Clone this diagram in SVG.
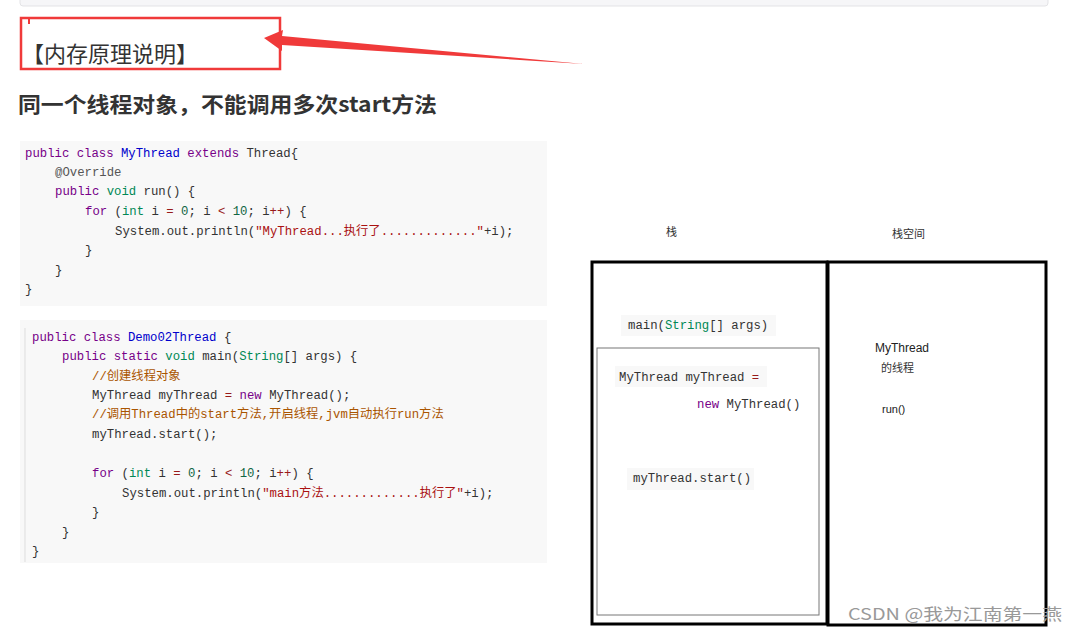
<svg xmlns="http://www.w3.org/2000/svg" width="1076" height="634" viewBox="0 0 1076 634">
<style>
.c{font-family:"Liberation Mono","Noto Sans CJK SC",monospace;font-size:12.3px;fill:#333;white-space:pre}
.k{fill:#770088}.t{fill:#008855}.n{fill:#116644}.s{fill:#aa1111}.cm{fill:#aa5500}.cl{fill:#0000cc}.op{fill:#981a1a}.a{fill:#555}
.h{font-family:"Noto Sans CJK SC","Noto Sans",sans-serif;fill:#333}
.box{fill:none;stroke:#000;stroke-width:3}
</style>
<rect width="1076" height="634" fill="#fff"/>
<rect x="20" y="-4" width="1028" height="10" rx="3" fill="#f6f6f8" stroke="#e3e3e6"/>
<g id="title">
<rect x="21" y="18" width="259" height="51" fill="none" stroke="#f03a3a" stroke-width="2.5"/>
<rect x="28" y="18" width="2" height="6" fill="#f03a3a"/>
<text x="22" y="62" class="h" font-size="22">【内存原理说明】</text>
</g>
<g id="arrow">
<polygon points="264,38 283,30 282,36 584,64 282,45 282,51" fill="#f03a3a"/>
</g>
<text x="18" y="112" class="h" font-size="21" font-weight="bold" textLength="419" lengthAdjust="spacingAndGlyphs">同一个线程对象，不能调用多次start方法</text>
<g id="code1">
<rect x="20" y="141" width="527" height="165" fill="#f8f8f8"/>
<text class="c" x="25" y="157"><tspan class="k">public class </tspan><tspan class="cl">MyThread </tspan><tspan class="k">extends </tspan>Thread{</text>
<text class="c" x="55" y="176"><tspan class="a">@Override</tspan></text>
<text class="c" x="55" y="195"><tspan class="k">public </tspan><tspan class="t">void </tspan>run() {</text>
<text class="c" x="85" y="215"><tspan class="k">for </tspan>(<tspan class="t">int </tspan>i <tspan class="op">=</tspan> <tspan class="n">0</tspan>; i <tspan class="op">&lt;</tspan> <tspan class="n">10</tspan>; i<tspan class="op">++</tspan>) {</text>
<text class="c" x="115" y="235">System.out.println(<tspan class="s">"MyThread...执行了............."</tspan>+i);</text>
<text class="c" x="85" y="254">}</text>
<text class="c" x="55" y="274">}</text>
<text class="c" x="25" y="293">}</text>
</g>
<g id="code2">
<rect x="20" y="320" width="527" height="243" fill="#f8f8f8"/>
<line x1="25" y1="328" x2="25" y2="562" stroke="#ddd"/>
<text class="c" x="32" y="341"><tspan class="k">public class </tspan><tspan class="cl">Demo02Thread </tspan>{</text>
<text class="c" x="62" y="360"><tspan class="k">public static </tspan><tspan class="t">void </tspan>main(<tspan class="t">String</tspan>[] args) {</text>
<text class="c" x="92" y="380"><tspan class="cm">//创建线程对象</tspan></text>
<text class="c" x="92" y="399">MyThread myThread <tspan class="op">=</tspan> <tspan class="k">new </tspan>MyThread();</text>
<text class="c" x="92" y="418"><tspan class="cm">//调用Thread中的start方法,开启线程,jvm自动执行run方法</tspan></text>
<text class="c" x="92" y="438">myThread.start();</text>
<text class="c" x="92" y="477"><tspan class="k">for </tspan>(<tspan class="t">int </tspan>i <tspan class="op">=</tspan> <tspan class="n">0</tspan>; i <tspan class="op">&lt;</tspan> <tspan class="n">10</tspan>; i<tspan class="op">++</tspan>) {</text>
<text class="c" x="122" y="497">System.out.println(<tspan class="s">"main方法.............执行了"</tspan>+i);</text>
<text class="c" x="92" y="516">}</text>
<text class="c" x="62" y="536">}</text>
<text class="c" x="32" y="555">}</text>
</g>
<g id="stack">
<text x="666" y="236" class="h" font-size="11">栈</text>
<rect x="592" y="262" width="235" height="362" class="box"/>
<rect x="597" y="348" width="222" height="267" fill="none" stroke="#777" stroke-width="1"/>
<rect x="621" y="315" width="155" height="21" fill="#f8f8f8"/>
<text class="c" x="628" y="329">main(<tspan class="t">String</tspan>[] args)</text>
<rect x="615" y="366" width="152" height="21" fill="#f8f8f8"/>
<text class="c" x="619" y="381">MyThread myThread <tspan class="op">=</tspan></text>
<text class="c" x="697" y="408"><tspan class="k">new </tspan>MyThread()</text>
<rect x="627" y="468" width="127" height="22" fill="#f8f8f8"/>
<text class="c" x="633" y="482">myThread.start()</text>
</g>
<g id="stackspace">
<text x="892" y="238" class="h" font-size="11">栈空间</text>
<rect x="828" y="262" width="218" height="363" class="box"/>
<text x="875" y="352" font-family="Liberation Sans,sans-serif" font-size="12" fill="#222">MyThread</text>
<text x="881" y="372" class="h" font-size="11">的线程</text>
<text x="882" y="413" font-family="Liberation Sans,sans-serif" font-size="11" fill="#222">run()</text>
</g>
<text x="848" y="620" class="h" font-size="16" style="fill:#999" textLength="214" lengthAdjust="spacingAndGlyphs">CSDN @我为江南第一燕</text>
</svg>
